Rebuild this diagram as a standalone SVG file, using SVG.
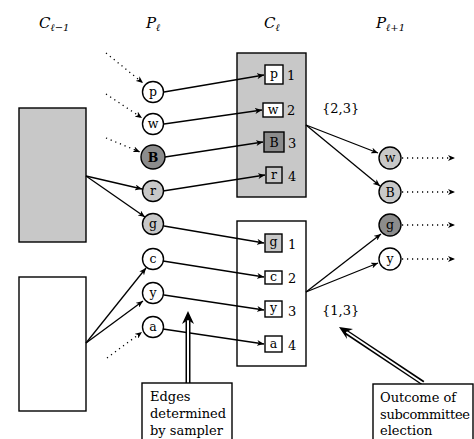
<svg xmlns="http://www.w3.org/2000/svg" width="474" height="439" viewBox="0 0 474 439" font-family="'DejaVu Serif', serif">
<defs>
<marker id="ah" markerWidth="8" markerHeight="6" refX="7" refY="3" orient="auto" markerUnits="userSpaceOnUse">
<path d="M0,0 L7,3 L0,6 L2,3 Z" fill="#000"/>
</marker>
</defs>
<style>
text{font-family:'DejaVu Serif',serif;fill:#000}
.hdr{font-size:15px;font-style:italic}
.sub{font-size:10px;font-style:italic}
.lbl{font-size:12.5px;text-anchor:middle}
.num{font-size:13px}
.cal{font-size:13px}
.note{font-size:13px}
.e{stroke:#000;stroke-width:1.3;fill:none;marker-end:url(#ah)}
.d{stroke:#000;stroke-width:1.3;fill:none;stroke-dasharray:1.2 3.8;marker-end:url(#ah)}
.nd{stroke:#000;stroke-width:1.4}
.w{fill:#fff}.lg{fill:#c8c8c8}.dg{fill:#8c8c8c}
</style>
<rect width="474" height="439" fill="#fff"/>

<g id="headers">
<text class="hdr" x="39" y="28">C<tspan class="sub" dy="3">ℓ−1</tspan></text>
<text class="hdr" x="146" y="28">P<tspan class="sub" dy="3">ℓ</tspan></text>
<text class="hdr" x="264" y="28">C<tspan class="sub" dy="3">ℓ</tspan></text>
<text class="hdr" x="376" y="28">P<tspan class="sub" dy="3">ℓ+1</tspan></text>
</g>

<g id="prev-committee-1"><rect class="nd lg" x="19" y="108" width="67" height="134"/></g>
<g id="prev-committee-2"><rect class="nd w" x="19" y="277" width="67" height="134"/></g>

<g id="committee-1"><rect class="nd lg" x="237" y="53" width="69" height="144"/></g>
<g id="committee-2"><rect class="nd w" x="237" y="221" width="69" height="145"/></g>

<g id="connectors">
<path class="d" d="M106,53 L143,83"/>
<path class="d" d="M106,94 L142,118"/>
<path class="d" d="M106,138 L140,152"/>
<path class="d" d="M107,358 L142,332"/>
<path class="e" d="M86,176 L142,189"/>
<path class="e" d="M86,176 L145,217"/>
<path class="e" d="M86,343 L146,268"/>
<path class="e" d="M86,343 L143,301"/>
<path class="e" d="M164,92 L264,75"/>
<path class="e" d="M164,124 L262,110"/>
<path class="e" d="M165,157 L263,142"/>
<path class="e" d="M163,191 L265,175"/>
<path class="e" d="M164,226 L264,243"/>
<path class="e" d="M163,261 L264,277"/>
<path class="e" d="M164,295 L264,310"/>
<path class="e" d="M163,329 L264,344"/>
<path class="e" d="M306,125 L378,153"/>
<path class="e" d="M306,125 L380,186"/>
<path class="e" d="M306,292 L381,234"/>
<path class="e" d="M306,292 L378,263"/>
<path class="d" d="M402,158 L455,158"/>
<path class="d" d="M402,192 L455,192"/>
<path class="d" d="M402,225 L455,225"/>
<path class="d" d="M402,259 L455,259"/>
</g>

<g id="p"><circle class="nd w" cx="153" cy="92" r="10.5"/><text class="lbl" x="153" y="96">p</text></g>
<g id="w"><circle class="nd w" cx="153" cy="124" r="10.5"/><text class="lbl" x="153" y="128">w</text></g>
<g id="B"><circle class="nd dg" cx="153" cy="157" r="12"/><text class="lbl" x="153" y="162" font-weight="bold">B</text></g>
<g id="r"><circle class="nd lg" cx="153" cy="191" r="10.5"/><text class="lbl" x="153" y="195">r</text></g>
<g id="g"><circle class="nd lg" cx="153" cy="224" r="10.5"/><text class="lbl" x="153" y="228">g</text></g>
<g id="c"><circle class="nd w" cx="153" cy="259" r="10.5"/><text class="lbl" x="153" y="263">c</text></g>
<g id="y"><circle class="nd w" cx="153" cy="293" r="10.5"/><text class="lbl" x="153" y="297">y</text></g>
<g id="a"><circle class="nd w" cx="153" cy="327" r="10.5"/><text class="lbl" x="153" y="331">a</text></g>

<g id="sq-p"><rect class="nd w" x="265" y="65" width="18" height="19"/><text class="lbl" x="274" y="78">p</text><text class="num" x="287" y="80">1</text></g>
<g id="sq-w"><rect class="nd w" x="263" y="103" width="20" height="14"/><text class="lbl" x="273" y="114">w</text><text class="num" x="287" y="115">2</text></g>
<g id="sq-B"><rect class="nd dg" x="264" y="132" width="20" height="20"/><text class="lbl" x="274" y="147">B</text><text class="num" x="288" y="148">3</text></g>
<g id="sq-r"><rect class="nd lg" x="266" y="167" width="16" height="16"/><text class="lbl" x="274" y="179">r</text><text class="num" x="288" y="181">4</text></g>

<g id="sq-g"><rect class="nd lg" x="265" y="234" width="17" height="18"/><text class="lbl" x="273.5" y="246">g</text><text class="num" x="288" y="249">1</text></g>
<g id="sq-c"><rect class="nd w" x="265" y="271" width="17" height="13"/><text class="lbl" x="273.5" y="281">c</text><text class="num" x="288" y="283">2</text></g>
<g id="sq-y"><rect class="nd w" x="265" y="301" width="17" height="16"/><text class="lbl" x="273.5" y="312">y</text><text class="num" x="288" y="316">3</text></g>
<g id="sq-a"><rect class="nd w" x="265" y="336" width="17" height="16"/><text class="lbl" x="273.5" y="348">a</text><text class="num" x="288" y="350">4</text></g>

<g id="set-1"><text class="cal" x="322" y="113">{2,3}</text></g>
<g id="set-2"><text class="cal" x="322" y="315">{1,3}</text></g>

<g id="w2"><circle class="nd lg" cx="390" cy="158" r="11"/><text class="lbl" x="390" y="162">w</text></g>
<g id="B2"><circle class="nd lg" cx="390" cy="192" r="11"/><text class="lbl" x="390" y="197">B</text></g>
<g id="g2"><circle class="nd dg" cx="390" cy="225" r="11"/><text class="lbl" x="390" y="229">g</text></g>
<g id="y2"><circle class="nd w" cx="390" cy="259" r="11"/><text class="lbl" x="390" y="263">y</text></g>

<g id="callout-arrows">
<path d="M188,383 L188,321" stroke="#000" stroke-width="5" fill="none"/>
<path d="M188,384 L188,320" stroke="#fff" stroke-width="2" fill="none"/>
<path d="M188,311 L194,324 L188,320 L182,324 Z" fill="#000"/>
<path d="M423,383 L346,332" stroke="#000" stroke-width="5" fill="none"/>
<path d="M424,384 L345,331" stroke="#fff" stroke-width="2" fill="none"/>
<path d="M339,327 L353,329 L346,332 L347,339 Z" fill="#000"/>
</g>

<g id="edges-note">
<rect class="nd w" x="142" y="383" width="90" height="62"/>
<text class="note" x="150" y="401">Edges</text>
<text class="note" x="150" y="418">determined</text>
<text class="note" x="150" y="435">by sampler</text>
</g>
<g id="outcome-note">
<rect class="nd w" x="373" y="384" width="100" height="62"/>
<text class="note" x="380" y="402">Outcome of</text>
<text class="note" x="380" y="419" textLength="90">subcommittee</text>
<text class="note" x="380" y="435">election</text>
</g>
</svg>
